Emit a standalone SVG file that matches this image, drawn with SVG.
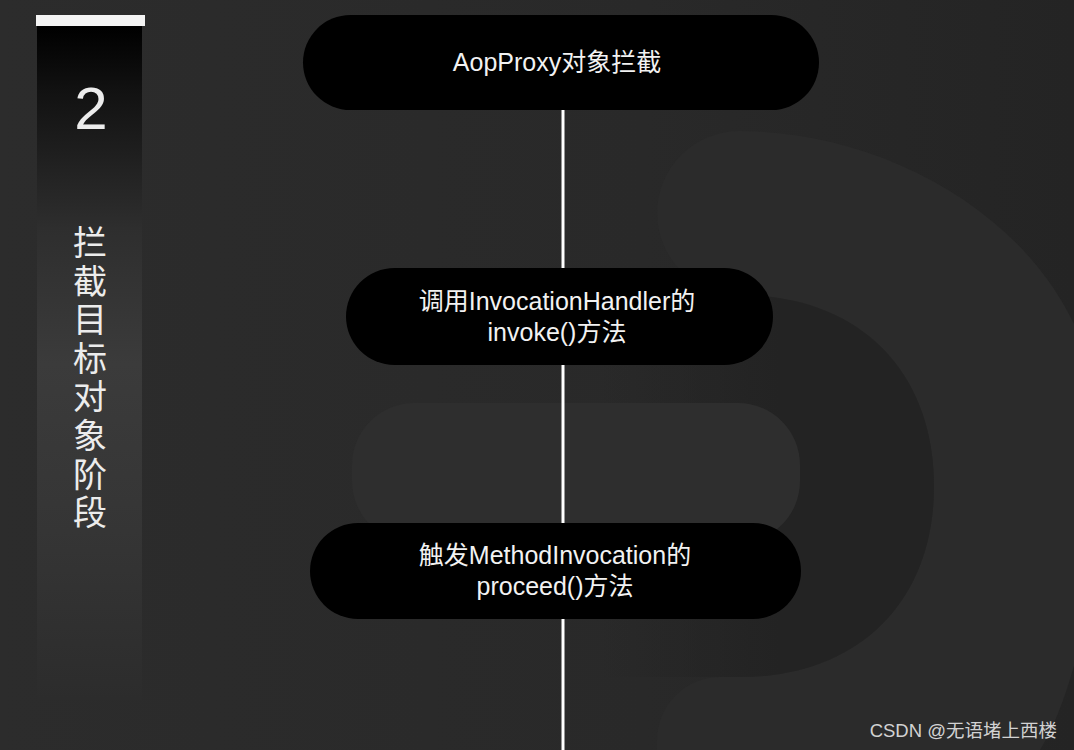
<svg xmlns="http://www.w3.org/2000/svg" width="1074" height="750" viewBox="0 0 1074 750">
  <defs>
    <linearGradient id="bg" x1="0" y1="0" x2="1" y2="0">
      <stop offset="0" stop-color="#2c2c2c"/>
      <stop offset="0.6" stop-color="#292929"/>
      <stop offset="1" stop-color="#242424"/>
    </linearGradient>
    <linearGradient id="panel" x1="0" y1="0" x2="0" y2="1">
      <stop offset="0" stop-color="#000000"/>
      <stop offset="0.1" stop-color="#121212"/>
      <stop offset="0.3" stop-color="#2e2e2e"/>
      <stop offset="0.5" stop-color="#3b3b3b"/>
      <stop offset="0.75" stop-color="#353535"/>
      <stop offset="1" stop-color="#2c2c2c"/>
    </linearGradient>
    <linearGradient id="inner" x1="600" y1="0" x2="780" y2="0" gradientUnits="userSpaceOnUse">
      <stop offset="0" stop-color="#242424" stop-opacity="0"/>
      <stop offset="1" stop-color="#232323" stop-opacity="1"/>
    </linearGradient>
    <style>
      .pill { fill: #000000; }
      .lbl { font-family: "Liberation Sans", "Noto Sans CJK SC", sans-serif; font-size: 25px; fill: #f2f2f2; text-anchor: middle; }
      .conn { stroke: #ffffff; stroke-width: 3; fill: none; }
      .side { font-family: "Liberation Sans", "Noto Sans CJK SC", sans-serif; fill: #ececec; text-anchor: middle; }
    </style>
  </defs>

  <!-- background -->
  <rect x="0" y="0" width="1074" height="750" fill="url(#bg)"/>
  <path d="M 657 213 A 82 82 0 0 1 740 131 C 910 131 1100 250 1100 440 C 1100 600 1070 700 1040 750 L 657 750 L 657 740 A 63 63 0 0 1 720 677 L 740 677 C 860 677 934 600 934 486 C 934 372 860 295 740 295 A 82 82 0 0 1 657 213 Z" fill="#2b2b2b"/>
  <path d="M 600 295 L 740 295 C 860 295 934 372 934 486 C 934 600 860 677 740 677 L 600 677 Z" fill="url(#inner)"/>
  <rect x="352" y="403" width="448" height="140" rx="62" fill="#2e2e2e"/>

  <!-- left panel -->
  <g id="side-panel">
    <rect x="36" y="15" width="109" height="11" fill="#f4f4f4"/>
    <rect x="37" y="26" width="105" height="674" fill="url(#panel)"/>
    <text class="side" x="91" y="129" font-size="60">2</text>
    <text class="side" x="90" y="255" font-size="34">拦</text>
    <text class="side" x="90" y="294" font-size="34">截</text>
    <text class="side" x="90" y="332" font-size="34">目</text>
    <text class="side" x="90" y="371" font-size="34">标</text>
    <text class="side" x="90" y="409" font-size="34">对</text>
    <text class="side" x="90" y="448" font-size="34">象</text>
    <text class="side" x="90" y="487" font-size="34">阶</text>
    <text class="side" x="90" y="525" font-size="34">段</text>
  </g>

  <!-- connectors -->
  <g id="connectors">
    <line class="conn" x1="563" y1="110" x2="563" y2="268"/>
    <line class="conn" x1="563" y1="365" x2="563" y2="523"/>
    <line class="conn" x1="563" y1="619" x2="563" y2="750"/>
  </g>

  <!-- nodes -->
  <g id="node-aopproxy">
    <rect class="pill" x="303" y="15" width="516" height="95" rx="47.5"/>
    <text class="lbl" x="557" y="71">AopProxy对象拦截</text>
  </g>
  <g id="node-invocationhandler">
    <rect class="pill" x="346" y="268" width="427" height="97" rx="48.5"/>
    <text class="lbl" x="557" y="310">调用InvocationHandler的</text>
    <text class="lbl" x="557" y="341">invoke()方法</text>
  </g>
  <g id="node-methodinvocation">
    <rect class="pill" x="310" y="523" width="491" height="96" rx="48"/>
    <text class="lbl" x="555" y="564">触发MethodInvocation的</text>
    <text class="lbl" x="555" y="595">proceed()方法</text>
  </g>

  <!-- watermark -->
  <text x="1057" y="737" font-family="Liberation Sans, Noto Sans CJK SC, sans-serif" font-size="18.5" fill="#d2d2d2" text-anchor="end">CSDN @无语堵上西楼</text>
</svg>
